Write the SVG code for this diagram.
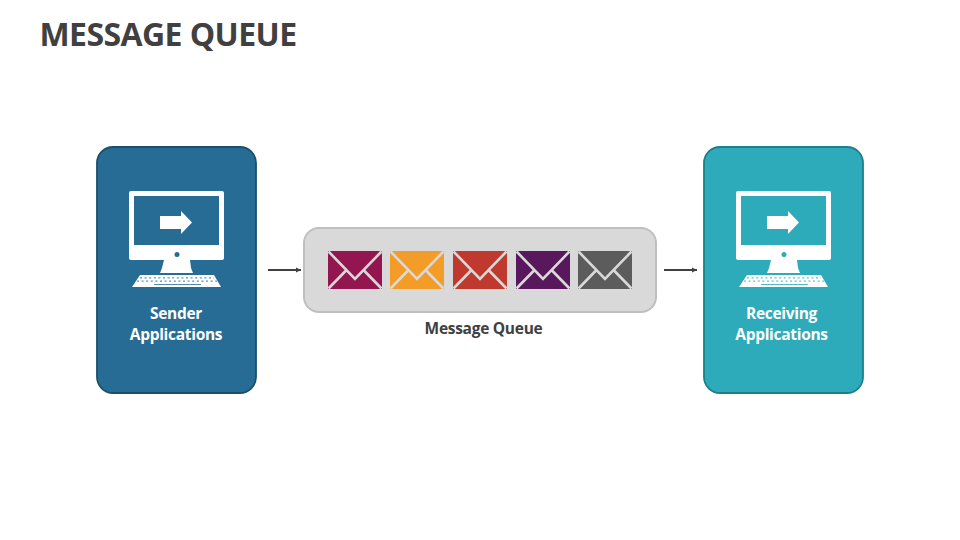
<svg xmlns="http://www.w3.org/2000/svg" width="960" height="540" viewBox="0 0 960 540">
<style>
text{font-family:"Open Sans","Liberation Sans",sans-serif;font-weight:700}
.lab{font-size:15.5px;fill:#fff;text-anchor:middle;letter-spacing:-.3px}
.flap{fill:none;stroke:#d9d9d9;stroke-width:2.6}
.con{stroke:#404040;stroke-width:1.8;fill:none;marker-end:url(#ah)}
</style>
<defs>
<marker id="ah" markerUnits="userSpaceOnUse" markerWidth="6" markerHeight="6" refX="5" refY="3" orient="auto"><path d="M0 .4L5 3L0 5.600z" fill="#404040"/></marker>
<symbol id="pc" overflow="visible">
<path d="M2 0H93a2 2 0 0 1 2 2V67a2 2 0 0 1-2 2H2a2 2 0 0 1-2-2V2a2 2 0 0 1 2-2z" fill="#fff"/>
<path d="M35 69H61L62 77 64 82H31L33 77z" fill="#fff"/>
<path d="M11 84H85L92 96H3z" fill="#fff"/>
<g fill="none" stroke="var(--k)" stroke-width="1.200" stroke-dasharray="2 2.600" opacity=".75"><path d="M11 86.800H85M8 90.200H88"/></g>
<path d="M25 93.500H72" stroke="var(--k)" stroke-width="1" opacity=".8"/>
<circle cx="48" cy="63.500" r="2.500" fill="var(--k)"/>
<rect x="5" y="5" width="85" height="49" fill="var(--k)"/>
<path d="M31 25H52V20L63 31.500 52 43V38H31z" fill="#fff"/>
</symbol>
<symbol id="env" overflow="visible">
<rect width="54" height="38" fill="var(--e)"/>
<path class="flap" d="M.5 .5L27 28 53.500 .5M.5 37.500L18.500 19M53.500 37.500L35.500 19"/>
</symbol>
</defs>
<rect width="960" height="540" fill="#fff"/>
<text id="title" x="39.500" y="46" font-size="32" fill="#404040" letter-spacing="-.58">MESSAGE QUEUE</text>
<g id="connectors">
<path class="con" d="M268 270H301"/>
<path class="con" d="M664 270H697"/>
</g>
<g id="sender">
<rect x="97" y="147" width="159" height="246" rx="16" fill="#276c94" stroke="#1b4f6c" stroke-width="1.800"/>
<use href="#pc" x="129" y="191" width="95" height="96" style="--k:#276c94"/>
<text class="lab" x="176" y="319">Sender</text>
<text class="lab" x="176" y="340">Applications</text>
</g>
<g id="queue">
<rect x="304" y="228" width="352" height="84" rx="15" fill="#d9d9d9" stroke="#bfbfbf" stroke-width="2"/>
<use href="#env" x="328" y="251" width="54" height="38" style="--e:#941651"/>
<use href="#env" x="390" y="251" width="54" height="38" style="--e:#f39c27"/>
<use href="#env" x="453" y="251" width="54" height="38" style="--e:#bf392e"/>
<use href="#env" x="516" y="251" width="54" height="38" style="--e:#59185c"/>
<use href="#env" x="578" y="251" width="54" height="38" style="--e:#5c5c5c"/>
<text x="483.500" y="334" font-size="15.500" fill="#404040" text-anchor="middle" letter-spacing="-.28">Message Queue</text>
</g>
<g id="receiver">
<rect x="704" y="147" width="159" height="246" rx="16" fill="#2eabba" stroke="#1c7f8b" stroke-width="1.800"/>
<use href="#pc" x="736" y="191" width="95" height="96" style="--k:#2eabba"/>
<text class="lab" x="781.500" y="319">Receiving</text>
<text class="lab" x="781.500" y="340">Applications</text>
</g>
</svg>
